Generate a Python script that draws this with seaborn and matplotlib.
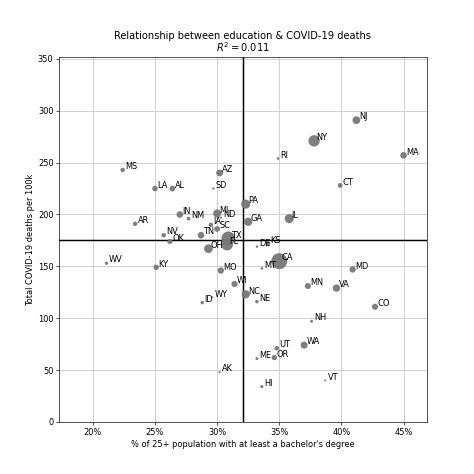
import matplotlib
matplotlib.use("Agg")
import matplotlib.pyplot as plt
from matplotlib.ticker import PercentFormatter
import seaborn as sns
import pandas as pd

# state-level values
states = ['AL', 'AK', 'AZ', 'AR', 'CA', 'CO', 'CT', 'DE', 'FL', 'GA',
          'HI', 'ID', 'IL', 'IN', 'IA', 'KS', 'KY', 'LA', 'ME', 'MD',
          'MA', 'MI', 'MN', 'MS', 'MO', 'MT', 'NE', 'NV', 'NH', 'NJ',
          'NM', 'NY', 'NC', 'ND', 'OH', 'OK', 'OR', 'PA', 'RI', 'SC',
          'SD', 'TN', 'TX', 'UT', 'VT', 'VA', 'WA', 'WV', 'WI', 'WY']
bachelor_pct = [26.4, 30.2, 30.2, 23.4, 35.0, 42.7, 39.9, 33.2, 30.8, 32.5,
                33.6, 28.8, 35.8, 27.0, 29.5, 34.1, 25.1, 25.0, 33.2, 40.9,
                45.0, 30.0, 37.3, 22.4, 30.3, 33.6, 33.2, 25.7, 37.6, 41.2,
                27.7, 37.8, 32.3, 30.3, 29.3, 26.2, 34.6, 32.3, 34.9, 30.0,
                29.7, 28.7, 30.9, 34.8, 38.7, 39.6, 37.0, 21.1, 31.4, 29.6]
deaths_per_100k = [225, 48, 240, 191, 155, 111, 228, 169, 171, 193,
                   34, 115, 196, 200, 190, 172, 149, 225, 61, 147,
                   257, 201, 131, 243, 146, 148, 116, 180, 97, 291,
                   196, 271, 123, 197, 167, 174, 62, 210, 254, 186,
                   225, 180, 177, 71, 40, 129, 74, 153, 133, 120]
population_m = [5.0, 0.73, 7.2, 3.0, 39.5, 5.8, 3.6, 0.99, 21.5, 10.7,
                1.5, 1.8, 12.8, 6.8, 3.2, 2.9, 4.5, 4.7, 1.4, 6.2,
                7.0, 10.1, 5.7, 3.0, 6.2, 1.1, 2.0, 3.1, 1.4, 9.3,
                2.1, 20.2, 10.4, 0.78, 11.8, 4.0, 4.2, 13.0, 1.1, 5.1,
                0.89, 6.9, 29.1, 3.3, 0.64, 8.6, 7.7, 1.8, 5.9, 0.58]

x_split = 32.1
y_split = 175
r_squared = 0.011

df = pd.DataFrame({'state': states, 'edu': bachelor_pct,
                   'deaths': deaths_per_100k, 'pop': population_m})
df['size'] = df['pop'] * 9.5

DPI = 59.25
fig, ax = plt.subplots(figsize=(8, 8), dpi=DPI)

sns.scatterplot(data=df, x='edu', y='deaths', s=df['size'], color='#777777',
                edgecolor='none', alpha=0.95, ax=ax, zorder=3, legend=False)

for _, row in df.iterrows():
    ax.annotate(row['state'], (row['edu'], row['deaths']),
                xytext=(3, 1), textcoords='offset points', fontsize=10)

ax.axvline(x_split, color='black', lw=1.8, zorder=2)
ax.axhline(y_split, color='black', lw=1.8, zorder=2)

ax.set_xlim(17.3, 46.85)
ax.set_ylim(0, 352)
ax.set_xticks([20, 25, 30, 35, 40, 45])
ax.set_yticks(range(0, 351, 50))
ax.xaxis.set_major_formatter(PercentFormatter(decimals=0))
ax.grid(True, color='#d0d0d0', lw=1.2, zorder=0)
ax.set_axisbelow(True)

ax.set_xlabel("% of 25+ population with at least a bachelor's degree")
ax.set_ylabel('Total COVID-19 deaths per 100k')
ax.set_title('Relationship between education & COVID-19 deaths\n'
             + '$R^2 = %.3f$' % r_squared, linespacing=0.95)

fig.savefig('out.png', dpi=DPI)
